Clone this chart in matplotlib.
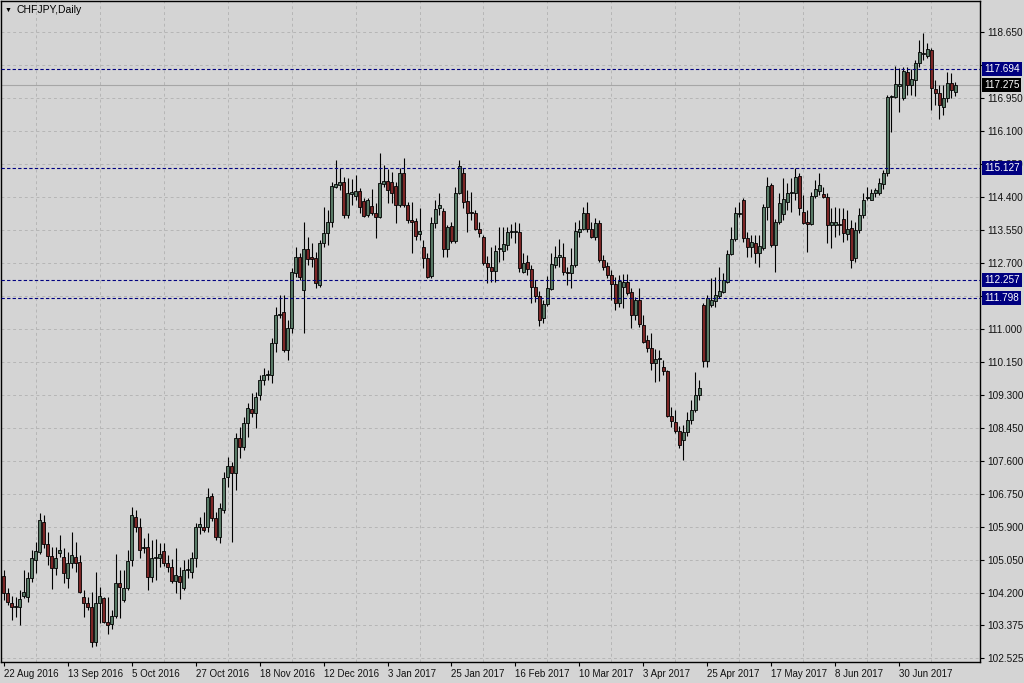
import matplotlib
matplotlib.use("Agg")
import matplotlib.pyplot as plt
import matplotlib.transforms as mtransforms
import numpy as np
import pandas as pd

# CHFJPY daily OHLC, 22 Aug 2016 onwards
opens = [
    104.63, 104.20, 103.94, 103.84, 103.84, 104.12, 104.09, 104.58, 105.05, 105.25,
    106.03, 105.46, 105.15, 104.84, 105.23, 105.12, 104.58, 104.97, 105.12, 104.99,
    104.09, 103.94, 103.84, 102.94, 103.94, 104.07, 103.45, 103.40, 103.61, 104.46,
    104.02, 104.33, 105.05, 106.16, 105.90, 105.36, 105.38, 104.61, 105.10, 105.10,
    105.28, 104.97, 104.87, 104.51, 104.63, 104.33, 104.79, 104.74, 105.10, 105.90,
    105.90, 105.90, 106.69, 106.13, 105.64, 106.33, 107.18, 107.47, 107.29, 108.19,
    107.96, 108.57, 108.93, 108.83, 109.29, 109.68, 109.81, 109.81, 110.63, 111.35,
    111.43, 110.45, 111.02, 112.43, 112.85, 112.00, 113.05, 112.85, 112.82, 112.12,
    113.21, 113.46, 113.75, 114.65, 114.70, 114.78, 113.93, 114.47, 114.41, 114.54,
    114.29, 113.93, 114.16, 113.98, 113.88, 114.72, 114.80, 114.78, 114.67, 114.18,
    115.01, 114.18, 113.80, 113.77, 113.44, 113.10, 112.82, 112.36, 113.72, 114.11,
    114.03, 113.05, 113.64, 113.26, 114.49, 115.01, 114.29, 114.00, 113.98, 113.57,
    113.36, 112.69, 112.59, 112.49, 113.05, 113.00, 113.15, 113.49, 113.49, 113.49,
    112.46, 112.72, 112.54, 112.07, 111.84, 111.28, 111.64, 112.02, 112.64, 112.85,
    112.85, 112.46, 112.43, 112.64, 113.49, 113.57, 113.98, 113.57, 113.36, 113.72,
    112.77, 112.61, 112.38, 112.15, 111.66, 112.07, 112.20, 111.95, 111.35, 111.74,
    111.10, 110.71, 110.50, 110.12, 110.22, 110.01, 109.91, 108.75, 108.60, 108.37,
    108.14, 108.34, 108.65, 108.91, 109.29, 111.61, 110.17, 111.61, 111.71, 111.84,
    111.95, 112.20, 112.92, 113.31, 113.95, 114.31, 113.33, 113.10, 113.21, 112.95,
    113.08, 114.13, 114.70, 113.15, 113.75, 113.95, 114.26, 114.49, 114.49, 114.93,
    114.00, 113.75, 113.70, 114.41, 114.54, 114.47, 114.39, 113.67, 113.67, 113.70,
    113.82, 113.44, 113.59, 112.82, 113.54, 113.93, 114.36, 114.31, 114.49, 114.49,
    114.72, 115.01, 116.96, 116.96, 117.25, 116.94, 117.61, 117.27, 117.40, 117.84,
    118.07, 118.02, 118.17, 117.17, 117.07, 116.71, 116.94, 117.32, 117.09,
]
highs = [
    104.79, 104.33, 104.12, 104.09, 104.27, 104.79, 104.74, 105.30, 105.51, 106.26,
    106.21, 105.77, 105.38, 105.38, 105.69, 105.36, 105.25, 105.77, 105.51, 105.18,
    104.27, 104.09, 104.22, 104.74, 104.36, 104.09, 104.09, 103.76, 105.20, 104.79,
    104.79, 105.30, 106.41, 106.33, 106.13, 105.61, 105.74, 105.56, 105.59, 105.48,
    105.48, 105.18, 105.07, 105.36, 104.87, 105.05, 105.07, 105.25, 106.00, 106.16,
    106.28, 106.90, 106.77, 106.28, 106.51, 107.31, 107.70, 107.57, 108.32, 108.47,
    108.73, 109.09, 109.35, 109.37, 109.81, 109.99, 109.94, 110.76, 111.56, 111.87,
    111.87, 111.22, 112.56, 113.10, 112.95, 113.75, 113.36, 113.21, 112.97, 113.28,
    114.13, 114.06, 114.78, 115.34, 115.14, 114.90, 114.88, 114.85, 114.96, 114.62,
    114.36, 114.36, 114.60, 114.24, 115.52, 115.21, 115.11, 115.03, 114.78, 115.14,
    115.40, 114.26, 114.26, 113.85, 114.11, 113.28, 112.95, 113.88, 114.31, 114.49,
    114.11, 113.67, 113.75, 114.65, 115.34, 115.14, 114.57, 114.52, 114.06, 113.75,
    113.41, 112.87, 113.10, 113.15, 113.62, 113.62, 113.62, 113.70, 113.75, 113.72,
    112.95, 112.90, 112.64, 112.25, 111.97, 111.74, 112.36, 112.95, 113.13, 113.31,
    113.21, 112.59, 113.08, 113.75, 113.80, 114.13, 114.26, 113.75, 113.85, 113.80,
    112.90, 112.72, 112.51, 112.33, 112.38, 112.41, 112.41, 112.05, 111.82, 112.05,
    111.35, 110.84, 110.89, 110.48, 110.45, 110.20, 109.94, 108.98, 108.91, 108.50,
    108.52, 108.86, 109.17, 109.89, 109.68, 111.66, 111.87, 112.30, 112.33, 112.59,
    112.43, 113.03, 113.62, 114.13, 114.26, 114.36, 113.49, 113.41, 113.41, 113.41,
    114.21, 114.90, 114.75, 113.82, 114.49, 114.88, 114.75, 114.88, 115.14, 115.01,
    114.44, 114.06, 114.52, 114.83, 115.01, 114.65, 114.49, 114.11, 114.13, 114.11,
    114.11, 114.06, 113.80, 113.75, 114.11, 114.49, 114.65, 114.60, 114.62, 114.88,
    115.09, 117.02, 117.02, 117.76, 117.71, 117.74, 117.74, 117.69, 117.92, 118.43,
    118.61, 118.35, 118.23, 117.40, 117.27, 117.27, 117.61, 117.58, 117.35,
]
lows = [
    104.02, 103.89, 103.50, 103.58, 103.37, 104.07, 103.97, 104.48, 104.71, 105.20,
    105.36, 104.92, 104.30, 104.66, 105.12, 104.46, 104.33, 104.84, 104.74, 104.20,
    103.58, 103.76, 102.81, 102.83, 103.42, 103.42, 103.14, 103.27, 103.55, 103.55,
    103.97, 104.27, 104.89, 105.77, 105.10, 105.23, 104.27, 104.48, 104.53, 104.87,
    104.89, 104.74, 104.46, 104.20, 104.04, 104.27, 104.58, 104.58, 104.87, 105.72,
    105.77, 105.77, 106.05, 105.56, 105.48, 106.26, 106.93, 105.51, 106.85, 107.67,
    107.88, 108.21, 108.73, 108.44, 109.17, 109.55, 109.68, 109.60, 110.40, 111.28,
    110.40, 110.19, 110.89, 112.33, 112.25, 110.89, 112.64, 112.59, 112.05, 112.07,
    113.10, 113.16, 113.62, 114.62, 114.57, 113.85, 113.85, 114.18, 114.31, 113.98,
    113.88, 113.88, 113.93, 113.34, 113.85, 114.65, 114.24, 114.24, 113.72, 114.13,
    114.13, 113.72, 112.95, 113.28, 113.28, 112.56, 112.30, 112.30, 113.59, 113.93,
    112.85, 112.85, 113.21, 113.21, 114.47, 114.11, 113.49, 113.80, 113.54, 113.36,
    112.64, 112.18, 112.20, 112.20, 112.72, 112.77, 113.03, 113.33, 113.21, 112.46,
    112.43, 112.38, 111.66, 111.69, 111.07, 111.15, 111.58, 112.00, 112.56, 112.59,
    112.38, 112.12, 112.05, 112.59, 113.36, 113.54, 113.49, 113.33, 113.28, 112.72,
    112.51, 112.30, 111.74, 111.48, 111.56, 111.53, 111.87, 111.02, 111.22, 111.04,
    110.63, 110.40, 109.94, 109.63, 109.65, 109.81, 108.73, 108.47, 108.32, 107.93,
    107.62, 108.24, 108.55, 108.86, 109.17, 110.01, 110.01, 111.56, 111.56, 111.79,
    111.92, 112.18, 112.90, 113.26, 113.88, 113.23, 112.85, 112.85, 112.69, 112.59,
    113.03, 113.80, 113.10, 112.46, 113.70, 113.80, 114.06, 114.00, 114.31, 113.93,
    113.70, 112.97, 113.67, 114.36, 114.44, 114.36, 113.21, 113.08, 113.36, 113.41,
    113.23, 113.28, 112.56, 112.72, 113.46, 113.85, 114.31, 114.31, 114.39, 114.44,
    114.60, 114.93, 116.06, 116.94, 116.58, 116.89, 117.02, 117.02, 116.99, 117.74,
    117.92, 117.97, 116.63, 116.76, 116.40, 116.50, 116.84, 116.94, 116.99,
]
closes = [
    104.20, 103.97, 103.84, 103.86, 104.04, 104.22, 104.58, 105.10, 105.28, 106.08,
    105.46, 105.15, 104.84, 105.10, 105.30, 104.71, 104.97, 105.18, 104.97, 104.22,
    103.94, 103.84, 102.94, 103.94, 104.12, 103.45, 103.37, 103.61, 104.46, 104.35,
    104.33, 105.02, 106.21, 105.90, 105.30, 105.38, 104.61, 105.10, 105.10, 105.20,
    104.97, 104.87, 104.51, 104.66, 104.48, 104.79, 104.79, 105.10, 105.90, 105.97,
    105.82, 106.67, 106.13, 105.64, 106.39, 107.16, 107.47, 107.29, 108.19, 107.96,
    108.57, 108.96, 108.83, 109.24, 109.68, 109.81, 109.83, 110.63, 111.35, 111.38,
    110.45, 111.02, 112.46, 112.85, 112.33, 113.05, 112.79, 112.79, 112.18, 113.21,
    113.46, 113.75, 114.67, 114.72, 114.78, 113.93, 114.49, 114.52, 114.54, 114.13,
    113.90, 114.31, 113.98, 113.88, 114.75, 114.80, 114.57, 114.49, 114.18, 115.01,
    114.18, 113.80, 113.75, 113.39, 113.51, 112.82, 112.33, 113.72, 114.08, 114.18,
    113.05, 113.62, 113.26, 114.49, 115.19, 114.26, 113.98, 113.98, 113.57, 113.46,
    112.69, 112.59, 112.49, 113.00, 113.05, 113.18, 113.49, 113.49, 113.49, 112.56,
    112.69, 112.54, 112.07, 111.84, 111.22, 111.64, 112.05, 112.66, 112.85, 112.90,
    112.46, 112.43, 112.64, 113.51, 113.57, 113.98, 113.57, 113.36, 113.72, 112.77,
    112.59, 112.38, 112.15, 111.66, 112.23, 112.20, 111.92, 111.35, 111.74, 111.12,
    110.66, 110.50, 110.12, 110.22, 110.22, 109.91, 108.75, 108.62, 108.37, 108.01,
    108.34, 108.65, 108.91, 109.29, 109.47, 110.17, 111.79, 111.74, 111.87, 111.97,
    112.25, 112.92, 113.31, 113.98, 113.98, 113.33, 113.10, 113.23, 112.95, 113.13,
    114.13, 114.67, 113.15, 113.75, 114.24, 114.34, 114.49, 114.52, 114.90, 114.11,
    113.72, 113.70, 114.41, 114.60, 114.70, 114.39, 113.67, 113.75, 113.75, 113.67,
    113.46, 113.57, 112.77, 113.54, 113.93, 114.31, 114.39, 114.49, 114.57, 114.75,
    115.01, 116.96, 116.96, 117.30, 117.30, 117.63, 117.27, 117.43, 117.84, 118.12,
    118.10, 118.20, 117.20, 117.07, 116.76, 116.94, 117.32, 117.14, 117.27,
]

levels = [117.694, 115.127, 112.257, 111.798]
last_price = 117.275
price_ticks = [118.650, 117.800, 116.950, 116.100, 115.250, 114.400, 113.550,
               112.700, 111.850, 111.000, 110.150, 109.300, 108.450, 107.600,
               106.750, 105.900, 105.050, 104.200, 103.375, 102.525]
# labels that sit fully under a level box on the original are not printed
hidden_ticks = [117.800, 111.850]

dates = pd.bdate_range("2016-08-22", periods=len(closes))
date_ticks = list(range(0, len(closes), 16))
date_labels = [f"{dates[i].day} {dates[i]:%b %Y}" for i in date_ticks]

plt.rcParams["font.family"] = ["Liberation Sans", "DejaVu Sans"]
BG = "#d4d4d4"
BULL = "#587a66"
BEAR = "#7c2626"
GRID = "#b6b6b6"
NAVY = "#000080"

fig = plt.figure(figsize=(10.24, 6.83), dpi=100, facecolor=BG)
ax = fig.add_axes([0.001, 0.0307, 0.956, 0.9678], facecolor=BG)

o = np.array(opens)
h = np.array(highs)
l = np.array(lows)
c = np.array(closes)
x = np.arange(len(c))
up = c >= o

ax.vlines(x, l, h, color="black", lw=0.8, zorder=3)
body_lo = np.minimum(o, c)
body_h = np.maximum(np.abs(c - o), 0.02)
ax.bar(x, body_h, bottom=body_lo, width=0.72,
       color=np.where(up, BULL, BEAR), edgecolor="black", lw=0.6, zorder=4)

for lv in levels:
    ax.axhline(lv, color=NAVY, ls=(0, (3, 2)), lw=0.8, zorder=5)
ax.axhline(last_price, color="#a6a6a6", lw=0.8, zorder=2)

ax.set_xlim(-0.625, 244.125)
ax.set_ylim(102.421, 119.435)

# price axis on the right
ax.yaxis.tick_right()
ax.set_yticks(price_ticks)
ax.set_yticklabels(["" if p in hidden_ticks else f"{p:.3f}" for p in price_ticks])
ax.tick_params(axis="y", direction="out", length=3, pad=2, labelsize=7.2,
               colors="black", labelcolor="#111111")

ax.set_xticks(date_ticks)
ax.set_xticklabels(date_labels)
for lbl in ax.get_xticklabels():
    lbl.set_ha("left")
ax.tick_params(axis="x", direction="out", length=3, pad=2, labelsize=7,
               labelcolor="#111111")
ax.set_xticks(range(0, len(c), 8), minor=True)
ax.tick_params(axis="x", which="minor", length=0)

ax.grid(axis="y", color=GRID, ls=(0, (3, 3)), lw=0.7)
ax.grid(axis="x", which="minor", color=GRID, ls=(0, (3, 3)), lw=0.7)
ax.set_axisbelow(True)

for sp in ax.spines.values():
    sp.set_color("black")
    sp.set_linewidth(1.0)

trans = mtransforms.blended_transform_factory(ax.transAxes, ax.transData)
for lv in levels:
    ax.text(1.004, lv, f"{lv:.3f}", transform=trans, ha="left", va="center",
            fontsize=7.2, color="white", zorder=10, clip_on=False,
            bbox=dict(boxstyle="square,pad=0.2", fc=NAVY, ec="none"))
ax.text(1.004, last_price, f"{last_price:.3f}", transform=trans, ha="left",
        va="center", fontsize=7.2, color="white", zorder=10, clip_on=False,
        bbox=dict(boxstyle="square,pad=0.2", fc="black", ec="none"))

fig.text(0.004, 0.985, "\u25bc", fontsize=5, va="center", color="black")
fig.text(0.016, 0.985, "CHFJPY,Daily", fontsize=7.5, va="center", color="black")

fig.savefig("out.png", dpi=100, facecolor=BG)
